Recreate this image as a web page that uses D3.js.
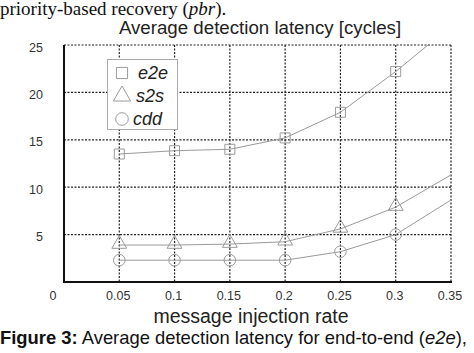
<!DOCTYPE html>
<html><head><meta charset="utf-8">
<script src="https://cdn.jsdelivr.net/npm/d3@7/dist/d3.min.js"></script>
<style>body{margin:0;background:#fff}svg{display:block}</style>
</head><body>
<script>
const xValues = [0.05, 0.1, 0.15, 0.2, 0.25, 0.3, 0.35];
const e2e = [13.5, 13.85, 14.0, 15.2, 17.9, 22.2, 27.0];
const s2s = [3.9, 3.9, 4.0, 4.25, 5.6, 7.9, 11.3];
const cdd = [2.3, 2.3, 2.3, 2.3, 3.2, 5.0, 8.65];
const markerCount = 6;
const xTicks = [0, 0.05, 0.1, 0.15, 0.2, 0.25, 0.3, 0.35];
const yTicks = [5, 10, 15, 20, 25];
const seriesNames = ["e2e", "s2s", "cdd"];
const seriesSymbols = ["square", "triangle", "circle"];

(function () {
const W = 474, H = 353;
const svg = d3.select("body").append("svg").attr("width", W).attr("height", H);
const L = 64, R = 451, T = 45, B = 282;
const x = d3.scaleLinear().domain([0, 0.35]).range([L, R]);
const y = d3.scaleLinear().domain([0, 25]).range([B, T]);
const sans = "'Liberation Sans', Arial, sans-serif";
const gray = "#9a9a9a";

// top line of page text
const topText = svg.append("text").attr("x", 0).attr("y", 15)
  .attr("font-family", "'Liberation Serif', 'Times New Roman', serif").attr("font-size", 19).attr("fill", "#111");
topText.append("tspan").text("priority-based recovery (");
topText.append("tspan").attr("font-style", "italic").text("pbr");
topText.append("tspan").text(").");

// title
svg.append("text").attr("x", 260).attr("y", 34).attr("text-anchor", "middle")
  .attr("font-family", sans).attr("font-size", 18.7).attr("fill", "#222")
  .text("Average detection latency [cycles]");

// grid
const grid = svg.append("g").attr("stroke", "#222").attr("stroke-width", 1.2).attr("stroke-dasharray", "2,1.5");
grid.selectAll(".gx").data(xTicks.filter(d => d > 0)).enter().append("line")
  .attr("x1", d => x(d)).attr("x2", d => x(d)).attr("y1", T).attr("y2", B);
grid.selectAll(".gy").data(yTicks).enter().append("line")
  .attr("x1", L).attr("x2", R).attr("y1", d => y(d)).attr("y2", d => y(d));

// clip
svg.append("clipPath").attr("id", "clip").append("rect")
  .attr("x", L).attr("y", T).attr("width", R - L).attr("height", B - T);

const allSeries = [e2e, s2s, cdd];
const line = d3.line().x(d => x(d[0])).y(d => y(d[1]));
const symMap = {square: d3.symbolSquare, triangle: d3.symbolTriangle, circle: d3.symbolCircle};
const symSize = {square: 100, triangle: 95, circle: 105};

const plot = svg.append("g").attr("clip-path", "url(#clip)");
allSeries.forEach((vals, i) => {
  const pts = xValues.map((xv, j) => [xv, vals[j]]);
  plot.append("path").datum(pts).attr("d", line).attr("fill", "none")
    .attr("stroke", gray).attr("stroke-width", 1);
  const sym = d3.symbol().type(symMap[seriesSymbols[i]]).size(symSize[seriesSymbols[i]]);
  plot.selectAll(".m" + i).data(pts.slice(0, markerCount)).enter().append("path")
    .attr("d", sym).attr("transform", d => `translate(${x(d[0])},${y(d[1]) - (seriesSymbols[i] === "triangle" ? 1 : 0)})`)
    .attr("fill", "none").attr("stroke", gray).attr("stroke-width", 1);
});

// axes (left & bottom solid)
svg.append("line").attr("x1", L).attr("x2", L).attr("y1", T).attr("y2", B + 1).attr("stroke", "#111").attr("stroke-width", 2);
svg.append("line").attr("x1", L - 1).attr("x2", R + 1).attr("y1", B).attr("y2", B).attr("stroke", "#111").attr("stroke-width", 2);

// tick labels
svg.selectAll(".yl").data(yTicks).enter().append("text")
  .attr("x", 43).attr("y", d => y(d) + 6.5).attr("text-anchor", "end")
  .attr("font-family", sans).attr("font-size", 12.5).attr("fill", "#333").text(d => d);
svg.selectAll(".xl").data(xTicks).enter().append("text")
  .attr("x", d => d === 0 ? 53 : x(d) - 1).attr("y", 300).attr("text-anchor", "middle")
  .attr("font-family", sans).attr("font-size", 12.5).attr("fill", "#333").text(d => d);

// x title
svg.append("text").attr("x", 251).attr("y", 323).attr("text-anchor", "middle")
  .attr("font-family", sans).attr("font-size", 19.5).attr("fill", "#222").text("message injection rate");

// legend
const lg = svg.append("g");
lg.append("rect").attr("x", 107.5).attr("y", 59.5).attr("width", 70).attr("height", 70)
  .attr("fill", "#fff").attr("stroke", "#aaa").attr("stroke-width", 1);
seriesNames.forEach((name, i) => {
  const cy = 73 + i * 23;
  const sym = d3.symbol().type(symMap[seriesSymbols[i]]).size(seriesSymbols[i] === "triangle" ? 130 : 125);
  lg.append("path").attr("d", sym).attr("transform", `translate(122,${cy})`)
    .attr("fill", "none").attr("stroke", gray).attr("stroke-width", 1);
  lg.append("text").attr("x", i === 0 ? 138 : (i === 1 ? 136 : 133)).attr("y", cy + 6)
    .attr("font-family", sans).attr("font-style", "italic").attr("font-size", 18).attr("fill", "#222").text(name);
});

// caption
const cap = svg.append("text").attr("x", 0).attr("y", 344)
  .attr("font-family", sans).attr("font-size", 18.4).attr("fill", "#111");
cap.append("tspan").attr("font-weight", "bold").text("Figure 3:");
cap.append("tspan").text(" Average detection latency for end-to-end (");
cap.append("tspan").attr("font-style", "italic").text("e2e");
cap.append("tspan").text("),");
})();
</script>
</body></html>
